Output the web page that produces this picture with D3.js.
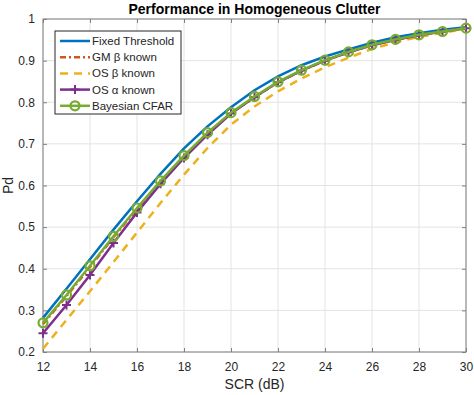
<!DOCTYPE html>
<meta charset="utf-8">
<script src="https://d3js.org/d3.v7.min.js"></script>
<style>
  body { margin: 0; background: #fff; }
  text { font-family: "Liberation Sans", Arial, sans-serif; fill: #262626; }
</style>
<body>
<div id="chart"></div>
<script>
// SCR values (dB) and Pd for each detector
var scr = [12, 13, 14, 15, 16, 17, 18, 19, 20, 21, 22, 23, 24, 25, 26, 27, 28, 29, 30];
var fixedThreshold = [0.282, 0.352, 0.423, 0.494, 0.562, 0.628, 0.689, 0.742, 0.788, 0.829, 0.862, 0.889, 0.910, 0.927, 0.943, 0.956, 0.966, 0.974, 0.980];
var gmBeta = [0.267, 0.334, 0.404, 0.476, 0.543, 0.608, 0.669, 0.724, 0.774, 0.812, 0.848, 0.876, 0.900, 0.920, 0.937, 0.950, 0.961, 0.970, 0.978];
var osBeta = [0.208, 0.277, 0.346, 0.416, 0.487, 0.558, 0.626, 0.690, 0.746, 0.790, 0.826, 0.857, 0.884, 0.907, 0.928, 0.944, 0.957, 0.967, 0.976];
var osAlpha = [0.245, 0.313, 0.385, 0.462, 0.535, 0.604, 0.666, 0.722, 0.773, 0.812, 0.848, 0.876, 0.900, 0.920, 0.937, 0.950, 0.961, 0.970, 0.978];
var bayesian = [0.270, 0.337, 0.407, 0.478, 0.546, 0.611, 0.672, 0.727, 0.775, 0.814, 0.849, 0.877, 0.901, 0.921, 0.938, 0.951, 0.962, 0.970, 0.978];
var xTicks = [12, 14, 16, 18, 20, 22, 24, 26, 28, 30];
var yTicks = [0.2, 0.3, 0.4, 0.5, 0.6, 0.7, 0.8, 0.9, 1];

var series = [
  {name: "Fixed Threshold", values: fixedThreshold, color: "#0072BD", dash: null, marker: null},
  {name: "GM \u03b2 known", values: gmBeta, color: "#D95319", dash: "6,3,2,3", marker: null},
  {name: "OS \u03b2 known", values: osBeta, color: "#EDB120", dash: "8,6", marker: null},
  {name: "OS \u03b1 known", values: osAlpha, color: "#7E2F8E", dash: null, marker: "plus"},
  {name: "Bayesian CFAR", values: bayesian, color: "#77AC30", dash: null, marker: "circle"}
];

var W = 474, H = 395;
var margin = {top: 19, right: 8, bottom: 43, left: 43},
    width = W - margin.left - margin.right,
    height = H - margin.top - margin.bottom;

var svg = d3.select("#chart").append("svg")
    .attr("width", W)
    .attr("height", H);

var g = svg.append("g")
    .attr("transform", "translate(" + margin.left + "," + margin.top + ")");

var x = d3.scaleLinear().domain([12, 30]).range([0, width]);
var y = d3.scaleLinear().domain([0.2, 1]).range([height, 0]);

// grid
g.append("g").selectAll("line").data(xTicks).enter().append("line")
  .attr("x1", d => x(d)).attr("x2", d => x(d))
  .attr("y1", 0).attr("y2", height)
  .attr("stroke", "#e3e3e3").attr("stroke-width", 1);
g.append("g").selectAll("line").data(yTicks).enter().append("line")
  .attr("y1", d => y(d)).attr("y2", d => y(d))
  .attr("x1", 0).attr("x2", width)
  .attr("stroke", "#e3e3e3").attr("stroke-width", 1);

// axes (ticks pointing inward)
var axisColor = "#808080";
function styleAxis(sel) {
  sel.select(".domain").remove();
  sel.selectAll(".tick line").attr("stroke", axisColor);
  sel.selectAll(".tick text")
    .style("font-family", "'Liberation Sans', Arial, sans-serif")
    .style("font-size", "12px").attr("fill", "#262626");
}
g.append("g").attr("transform", "translate(0," + height + ")")
  .call(d3.axisBottom(x).tickValues(xTicks).tickSize(-4).tickPadding(10).tickFormat(d3.format("d")))
  .call(styleAxis);
g.append("g").attr("transform", "translate(0,0)")
  .call(d3.axisTop(x).tickValues(xTicks).tickSize(-4).tickFormat(""))
  .call(styleAxis);
g.append("g")
  .call(d3.axisLeft(y).tickValues(yTicks).tickSize(-4).tickPadding(8).tickFormat(d => d === 1 ? "1" : d3.format(".1f")(d)))
  .call(styleAxis);
g.append("g").attr("transform", "translate(" + width + ",0)")
  .call(d3.axisRight(y).tickValues(yTicks).tickSize(-4).tickFormat(""))
  .call(styleAxis);

g.append("rect")
  .attr("width", width).attr("height", height)
  .attr("fill", "none").attr("stroke", axisColor).attr("stroke-width", 1);

// lines
var line = d3.line()
  .x((d, i) => x(scr[i]))
  .y(d => y(d));

series.forEach(function(s) {
  g.append("path")
    .datum(s.values)
    .attr("fill", "none")
    .attr("stroke", s.color)
    .attr("stroke-width", 2.5)
    .attr("stroke-dasharray", s.dash)
    .attr("d", line);
  if (s.marker === "plus") {
    g.append("g").selectAll("path").data(s.values).enter().append("path")
      .attr("d", (d, i) => {
        var cx = x(scr[i]), cy = y(d), r = 4.5;
        return "M" + (cx - r) + "," + cy + "H" + (cx + r) + "M" + cx + "," + (cy - r) + "V" + (cy + r);
      })
      .attr("stroke", s.color).attr("stroke-width", 2);
  }
  if (s.marker === "circle") {
    g.append("g").selectAll("circle").data(s.values).enter().append("circle")
      .attr("cx", (d, i) => x(scr[i]))
      .attr("cy", d => y(d))
      .attr("r", 4.5)
      .attr("fill", "none")
      .attr("stroke", s.color)
      .attr("stroke-width", 2.2);
  }
});

// legend
var lg = svg.append("g").attr("transform", "translate(55,31)");
lg.append("rect")
  .attr("width", 126).attr("height", 83)
  .attr("fill", "#fff").attr("stroke", "#262626").attr("stroke-width", 1);
series.forEach(function(s, i) {
  var ly = 10 + i * 16.2;
  lg.append("line")
    .attr("x1", 5).attr("x2", 35).attr("y1", ly).attr("y2", ly)
    .attr("stroke", s.color).attr("stroke-width", 2.5)
    .attr("stroke-dasharray", s.dash);
  if (s.marker === "plus") {
    lg.append("path")
      .attr("d", "M15.5," + ly + "H24.5M20," + (ly - 4.5) + "V" + (ly + 4.5))
      .attr("stroke", s.color).attr("stroke-width", 2);
  }
  if (s.marker === "circle") {
    lg.append("circle").attr("cx", 20).attr("cy", ly).attr("r", 4.5)
      .attr("fill", "none").attr("stroke", s.color).attr("stroke-width", 2.2);
  }
  lg.append("text")
    .attr("x", 37).attr("y", ly + 4)
    .style("font-size", "11.5px")
    .text(s.name);
});

// title and labels
svg.append("text")
  .attr("x", margin.left + width / 2).attr("y", 14)
  .attr("text-anchor", "middle")
  .style("font-size", "14px").style("font-weight", "bold")
  .style("fill", "#000")
  .text("Performance in Homogeneous Clutter");

svg.append("text")
  .attr("x", margin.left + width / 2).attr("y", H - 6)
  .attr("text-anchor", "middle")
  .style("font-size", "14px")
  .text("SCR (dB)");

svg.append("text")
  .attr("transform", "translate(13," + (margin.top + height / 2) + ") rotate(-90)")
  .attr("text-anchor", "middle")
  .style("font-size", "14px")
  .text("Pd");
</script>
</body>
</html>
